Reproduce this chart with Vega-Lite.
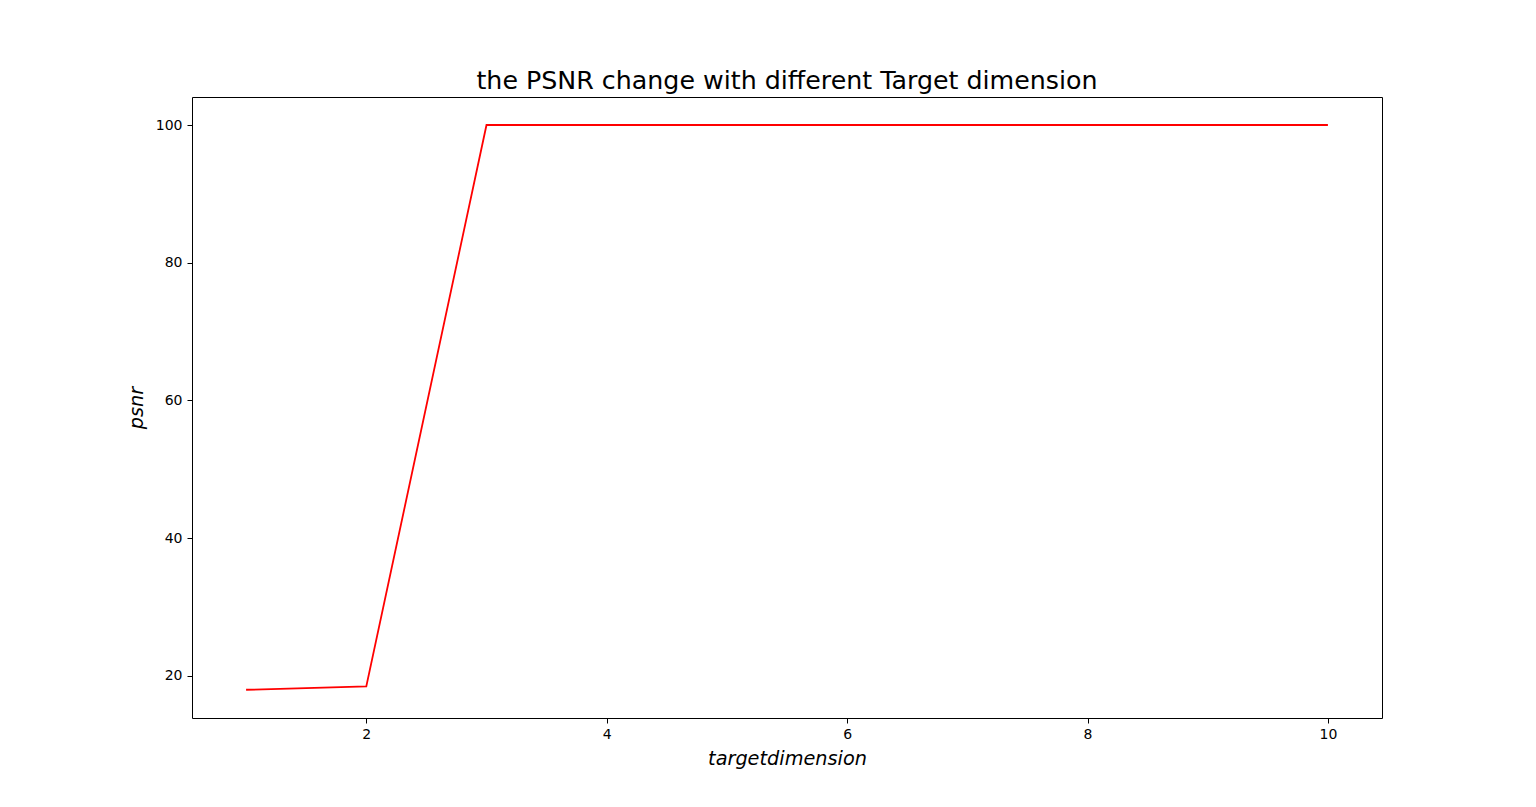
{
  "$schema": "https://vega.github.io/schema/vega-lite/v6.json",
  "width": 1190,
  "height": 621,
  "autosize": "none",
  "padding": {"left": 192, "top": 97, "right": 154, "bottom": 89},
  "background": "white",
  "title": {
    "text": "the PSNR change with different Target dimension",
    "font": "DejaVu Sans",
    "fontSize": 25.3,
    "fontWeight": "normal",
    "color": "black",
    "anchor": "middle",
    "offset": 3
  },
  "config": {
    "view": {"stroke": "black", "strokeWidth": 1},
    "axis": {
      "grid": false,
      "domain": false,
      "tickColor": "black",
      "tickSize": 5,
      "labelFont": "DejaVu Sans",
      "labelFontSize": 14,
      "labelColor": "black",
      "titleFont": "DejaVu Sans",
      "titleFontSize": 19.3,
      "titleFontStyle": "italic",
      "titleFontWeight": "normal",
      "titleColor": "black"
    }
  },
  "data": {
    "values": [
      {"targetdimension": 1, "psnr": 17.97},
      {"targetdimension": 2, "psnr": 18.45},
      {"targetdimension": 3, "psnr": 100},
      {"targetdimension": 4, "psnr": 100},
      {"targetdimension": 5, "psnr": 100},
      {"targetdimension": 6, "psnr": 100},
      {"targetdimension": 7, "psnr": 100},
      {"targetdimension": 8, "psnr": 100},
      {"targetdimension": 9, "psnr": 100},
      {"targetdimension": 10, "psnr": 100}
    ]
  },
  "mark": {"type": "line", "color": "red", "strokeWidth": 1.8},
  "encoding": {
    "x": {
      "field": "targetdimension",
      "type": "quantitative",
      "scale": {"domain": [0.55, 10.45], "nice": false, "zero": false},
      "axis": {"values": [2, 4, 6, 8, 10], "title": "targetdimension", "labelPadding": 4, "titlePadding": 8}
    },
    "y": {
      "field": "psnr",
      "type": "quantitative",
      "scale": {"domain": [13.87, 104.07], "nice": false, "zero": false},
      "axis": {"values": [20, 40, 60, 80, 100], "title": "psnr", "labelPadding": 5, "titlePadding": 9}
    }
  }
}
